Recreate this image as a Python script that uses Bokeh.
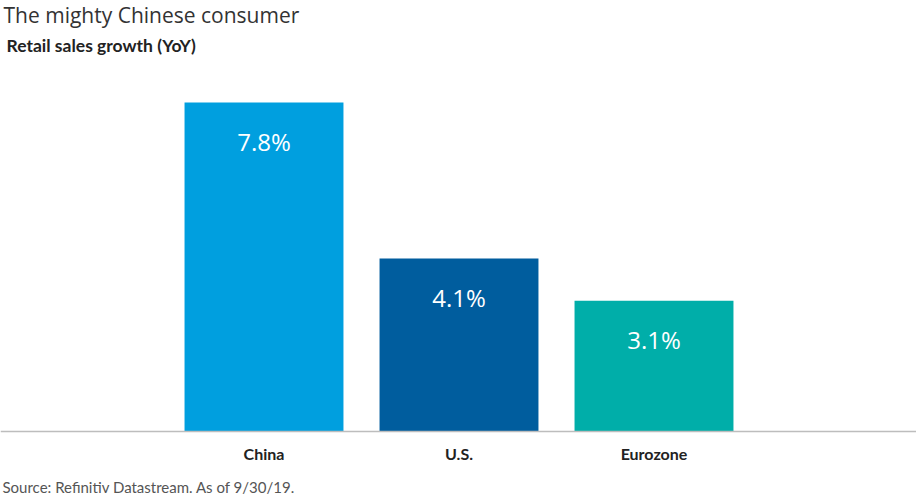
from bokeh.plotting import figure
from bokeh.models import Range1d, Label, ColumnDataSource, Span
from bokeh.core.properties import value
from bokeh.embed import file_html
from bokeh.resources import INLINE

categories = ["China", "U.S.", "Eurozone"]
growth = [7.8, 4.1, 3.1]
labels = ["7.8%", "4.1%", "3.1%"]
colors = ["#009FDF", "#005D9E", "#00AEA9"]

FONT = "Lato"
FONT2 = "Open Sans"
W, H = 916, 496
BASE = 431          # pixel row of the zero line
PX_PER_UNIT = 42.18
xs = list(range(len(categories)))
src = ColumnDataSource(dict(x=xs, top=growth, lab=labels, color=colors,
                            cat=categories, zero=[0] * len(xs)))

p = figure(width=W, height=H, output_backend="svg", toolbar_location=None,
           x_range=Range1d(-263.5 / 195, (W - 263.5) / 195),
           y_range=Range1d(-(H - BASE) / PX_PER_UNIT, BASE / PX_PER_UNIT),
           x_axis_location=None, y_axis_location=None,
           min_border_left=0, min_border_right=0, min_border_top=0, min_border_bottom=0)
p.outline_line_color = None
p.grid.visible = False
p.background_fill_color = "white"
p.border_fill_color = "white"

p.vbar(x="x", top="top", width=0.815, bottom=0, fill_color="color", line_color=None, source=src)
p.text(x="x", y="top", text="lab", y_offset=39, text_align="center", text_baseline="middle",
       text_color="white", text_font=value(FONT2), text_font_size="24px", source=src)

p.add_layout(Span(location=0, dimension="width", line_color="#BDBDBD", line_width=1.5))
p.text(x="x", y="zero", text="cat", y_offset=22, text_align="center", text_baseline="middle",
       text_color="#222222", text_font=value(FONT), text_font_style="bold", text_font_size="16px",
       source=src)

p.add_layout(Label(x=3, y=H, x_units="screen", y_units="screen", text="The mighty Chinese consumer",
                   text_font=FONT2, text_font_size="21px", text_color="#333333", text_baseline="top"))
p.add_layout(Label(x=6, y=H - 34, x_units="screen", y_units="screen", text="Retail sales growth (YoY)",
                   text_font=FONT, text_font_style="bold", text_font_size="17.5px", text_color="#222222",
                   text_baseline="top"))
p.add_layout(Label(x=2, y=H - 486, x_units="screen", y_units="screen",
                   text="Source: Refinitiv Datastream. As of 9/30/19.",
                   text_font=FONT, text_font_size="15px", text_color="#555555", text_baseline="middle"))

open("out.html", "w").write(file_html(p, INLINE))
